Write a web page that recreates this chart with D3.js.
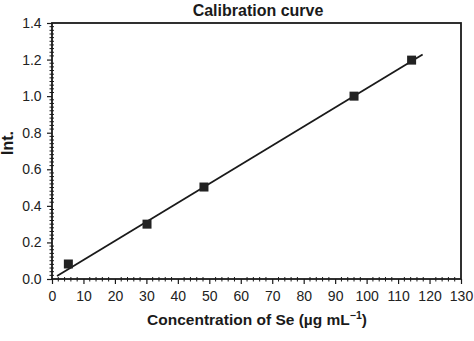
<!DOCTYPE html>
<html><head><meta charset="utf-8">
<script src="https://cdn.jsdelivr.net/npm/d3@7"></script>
<style>body{margin:0;background:#fff}svg{display:block}</style>
</head><body>
<svg id="c" width="474" height="341"></svg>
<script>
const concentration = [5.2, 30.2, 48.3, 96, 114.3];
const intensity = [0.082, 0.30, 0.503, 1.0, 1.197];
const fitX = [1.6, 117.8];
const fitY = [0.016, 1.228];
const xTicks = [0,10,20,30,40,50,60,70,80,90,100,110,120,130];
const yTicks = [0,0.2,0.4,0.6,0.8,1.0,1.2,1.4];
const title = "Calibration curve";
const yTitle = "Int.";

const svg = d3.select("#c");
const m = {l:52, r:461, t:23, b:279};
const x = d3.scaleLinear().domain([0,130]).range([m.l, m.r]);
const y = d3.scaleLinear().domain([0,1.4]).range([m.b, m.t]);
const font = "Liberation Sans, Arial, Helvetica, sans-serif";
const ink = "#1a1a1a";

// minor ticks
const xMinor = d3.range(0, 130.001, 2).filter(v => v % 10 !== 0);
const yMinor = d3.range(0, 1.4001, 0.02).map(v => +v.toFixed(2)).filter(v => Math.abs(v*5 - Math.round(v*5)) > 1e-6);
svg.append("g").selectAll("line").data(xMinor).join("line")
  .attr("x1", d => x(d)).attr("x2", d => x(d)).attr("y1", m.b - 2).attr("y2", m.b + 2.5)
  .attr("stroke", ink).attr("stroke-width", 1);
svg.append("g").selectAll("line").data(yMinor).join("line")
  .attr("y1", d => y(d)).attr("y2", d => y(d)).attr("x1", m.l - 2.5).attr("x2", m.l + 2)
  .attr("stroke", ink).attr("stroke-width", 1);

// axes
const xAxis = d3.axisBottom(x).tickValues(xTicks).tickFormat(d3.format("d")).tickSize(5).tickPadding(4);
const yAxis = d3.axisLeft(y).tickValues(yTicks).tickFormat(d3.format(".1f")).tickSize(5).tickPadding(4);
const gx = svg.append("g").attr("transform", `translate(0,${m.b})`).call(xAxis);
const gy = svg.append("g").attr("transform", `translate(${m.l},0)`).call(yAxis);
[gx, gy].forEach(g => {
  g.select(".domain").remove();
  g.selectAll(".tick line").attr("stroke", ink).attr("stroke-width", 1.2);
  g.selectAll(".tick text").attr("font-family", font).attr("font-size", 14).attr("fill", "#222");
});
gx.selectAll(".tick text").attr("dy", "0.95em");
gy.selectAll(".tick text").attr("dx", "-0.1em");

// frame
svg.append("rect").attr("x", m.l).attr("y", m.t).attr("width", m.r - m.l).attr("height", m.b - m.t)
  .attr("fill", "none").attr("stroke", ink).attr("stroke-width", 1.8);

// fit line
svg.append("path").datum(fitX.map((v,i) => [v, fitY[i]]))
  .attr("d", d3.line().x(d => x(d[0])).y(d => y(d[1])))
  .attr("stroke", ink).attr("stroke-width", 1.8).attr("fill", "none");

// markers
const s = 9;
svg.append("g").selectAll("rect").data(concentration).join("rect")
  .attr("x", d => x(d) - s/2).attr("y", (d,i) => y(intensity[i]) - s/2)
  .attr("width", s).attr("height", s).attr("fill", "#222");

// titles
svg.append("text").attr("x", 258).attr("y", 16).attr("text-anchor", "middle")
  .attr("font-family", font).attr("font-weight", "bold").attr("font-size", 16).attr("fill", ink).text(title);
const xt = svg.append("text").attr("x", 257).attr("y", 325).attr("text-anchor", "middle")
  .attr("font-family", font).attr("font-weight", "bold").attr("font-size", 15.5).attr("fill", ink);
xt.append("tspan").text("Concentration of Se (\u00b5g mL");
xt.append("tspan").attr("dy", -6).attr("font-size", 10.5).text("\u22121");
xt.append("tspan").attr("dy", 6).text(")");
svg.append("text").attr("transform", "translate(13,143) rotate(-90)").attr("text-anchor", "middle")
  .attr("font-family", font).attr("font-weight", "bold").attr("font-size", 16).attr("fill", ink).text(yTitle);
</script>
</body></html>
